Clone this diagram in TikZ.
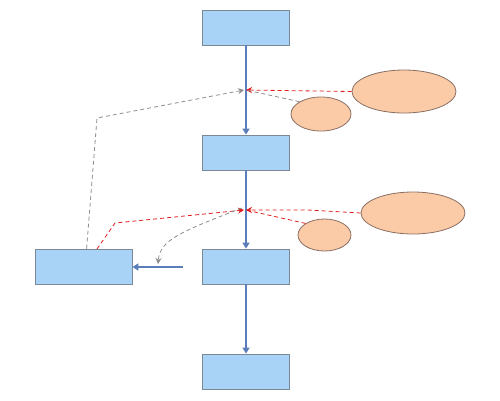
\documentclass[tikz,border=0pt]{standalone}
\usetikzlibrary{shapes.geometric,arrows.meta}
\definecolor{boxfill}{HTML}{A8D2F6}
\definecolor{boxline}{HTML}{7D8896}
\definecolor{ellfill}{HTML}{FBCBA7}
\definecolor{ellline}{HTML}{8A6E62}
\definecolor{flow}{HTML}{5B7DBA}
\definecolor{dashgray}{HTML}{8C8C8C}
\definecolor{dashred}{HTML}{E0201E}
\begin{document}
\begin{tikzpicture}[x=1pt,y=-1pt,
  bx/.style={draw=boxline,fill=boxfill,line width=0.8pt,minimum width=87pt,minimum height=35pt,inner sep=0pt},
  el/.style={ellipse,draw=ellline,fill=ellfill,line width=0.8pt,inner sep=0pt},
  flowarrow/.style={draw=flow,line width=2.2pt,-{Triangle[length=6pt,width=7pt]}},
  flowline/.style={draw=flow,line width=2.2pt},
  dsh/.style={dash pattern=on 4pt off 3pt,line width=0.8pt},
  redarr/.style={draw=dashred,dsh,-{Stealth[length=6pt,width=6pt]}},
  redln/.style={draw=dashred,dsh},
  grayarr/.style={draw=dashgray,dsh,-{Stealth[length=6pt,width=6pt]}},
  grayln/.style={draw=dashgray,dsh}]
\useasboundingbox (0,0) rectangle (500,400);
% boxes
\node[bx] (b1) at (246,27.5) {};
\node[bx] (b2) at (246,152.5) {};
\node[bx] (b3) at (246,266.5) {};
\node[bx] (b4) at (246,371.5) {};
\node[bx,minimum width=97pt] (bl) at (83.5,266.5) {};
% ellipses
\node[el,minimum width=104pt,minimum height=43pt] (e1) at (404,91.5) {};
\node[el,minimum width=60pt,minimum height=34pt] (e2) at (321,114) {};
\node[el,minimum width=104pt,minimum height=42pt] (e3) at (413,213) {};
\node[el,minimum width=53pt,minimum height=32pt] (e4) at (324.5,235) {};
% junction points
\coordinate (j1) at (246,90);
\coordinate (j2) at (246,210);
\coordinate (hs) at (183,267);
\coordinate (hm) at (158,264);
% main flow
\draw[flowline] (b1.south) -- (j1);
\draw[flowarrow] (j1) -- (b2.north);
\draw[flowline] (b2.south) -- (j2);
\draw[flowarrow] (j2) -- (b3.north);
\draw[flowarrow] (b3.south) -- (b4.north);
\draw[flowarrow] (hs) -- (bl.east |- hs);
% upper dashed
\draw[redarr] (e1.west) -- (j1);
\draw[grayln] (e2.north west) -- (j1);
\draw[grayarr] ([xshift=2pt]bl.north west) ++(50,0) -- (97,118) -- ([xshift=-2pt]j1);
% lower dashed
\draw[redarr] (e3.west) -- (308,210) -- (j2);
\draw[redln] (e4.north west) -- (j2);
\draw[redarr] (97,249) -- (115,223) -- ([xshift=-2pt]j2);
\draw[grayarr] ([xshift=-4pt,yshift=2pt]j2) .. controls (180,232) and (160,240) .. (hm);
\end{tikzpicture}
\end{document}
